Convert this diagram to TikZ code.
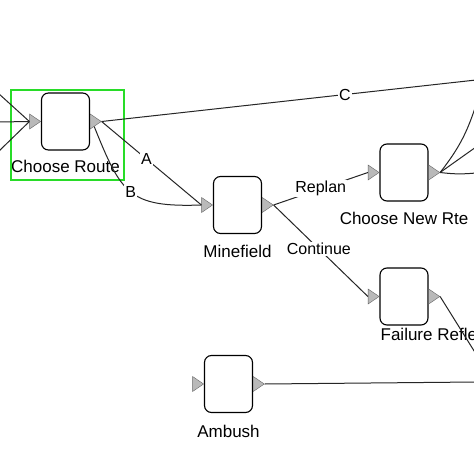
\documentclass[tikz,border=0pt]{standalone}
\usepackage{fontspec}
\setmainfont{Liberation Sans}
\usetikzlibrary{shapes.geometric, positioning}
\definecolor{selgreen}{RGB}{40,220,40}

\tikzset{
  task/.style={draw, rounded corners=7pt, minimum width=48pt, minimum height=57pt, line width=1.1pt, inner sep=0pt},
  port/.style={isosceles triangle, isosceles triangle apex angle=70, isosceles triangle stretches,
    fill=gray!55, draw=gray!80!black, inner sep=0pt, minimum height=11pt, minimum width=15pt},
  tname/.style={font=\fontsize{17}{19}\selectfont, inner sep=1pt},
  flow/.style={draw=black!85, line width=1pt},
  tag/.style={font=\fontsize{16}{18}\selectfont, fill=white, inner sep=1pt}
}

\begin{document}
\begin{tikzpicture}[x=1pt, y=1pt, on grid]
  \useasboundingbox (0,0) rectangle (474,-474);
  \clip (0,0) rectangle (474,-474);
  \fill[white] (0,0) rectangle (474,-474);

  \node[task] (route) at (65.5,-121.5) {};
  \node[task] (mine) [below right=83.5pt and 172pt of route] {};
  \node[task] (newrte) [above right=32.5pt and 166.5pt of mine] {};
  \node[task] (fail) [below=124pt of newrte] {};
  \node[task] (amb) [below left=179pt and 9pt of mine] {};

  \foreach \t in {route, mine, newrte, fail, amb} {
    \node[port, anchor=east] (\t-in) at (\t.west) {};
    \node[port, anchor=west] (\t-out) at (\t.east) {};
  }

  \node[tname] (route-lbl) [below=8pt of route.south] {Choose Route};
  \node[tname] (mine-lbl) [below=10pt of mine.south] {Minefield};
  \node[tname] (newrte-lbl) [below=9pt of newrte.south] {Choose New Rte};
  \node[tname, anchor=west] (fail-lbl) at ([yshift=-9pt]fail.south west) {Failure Reflect};
  \node[tname] (amb-lbl) [below=10.5pt of amb.south] {Ambush};

  % selection frame
  \draw[selgreen, line width=2.5pt] (11,-90) rectangle (124,-180);

  % ends off the page
  \coordinate (w1) at (-2,-93);
  \coordinate (w2) at (-2,-122);
  \coordinate (w3) at (-2,-152);
  \coordinate (eC) at (476,-80);
  \coordinate (e1) at (476,-105);
  \coordinate (e2) at (476,-147);
  \coordinate (e3) at (476,-173);
  \coordinate (e4) at (476,-354);
  \coordinate (e5) at (476,-382);

  \path[flow]
    (w1) edge (route-in.west)
    (w2) edge (route-in.west)
    (w3) edge (route-in.west)
    (route-out.east) edge node[tag, pos=0.65] {C} (eC)
    (route-out.east) edge node[tag, pos=0.45] {A} (mine-in.west)
    (route-out.south) edge[out=-68, in=182, looseness=1.4] node[tag, pos=0.5] {B} (mine-in.west)
    (mine-out.east) edge node[tag] {Replan} (newrte-in.west)
    (mine-out.east) edge node[tag, pos=0.48] {Continue} (fail-in.west)
    (newrte-out.east) edge[bend right=10] (e1)
    (newrte-out.east) edge (e2)
    (newrte-out.east) edge[bend right=6] (e3)
    (fail-out.east) edge (e4)
    (amb-out.east) edge (e5);
\end{tikzpicture}
\end{document}
